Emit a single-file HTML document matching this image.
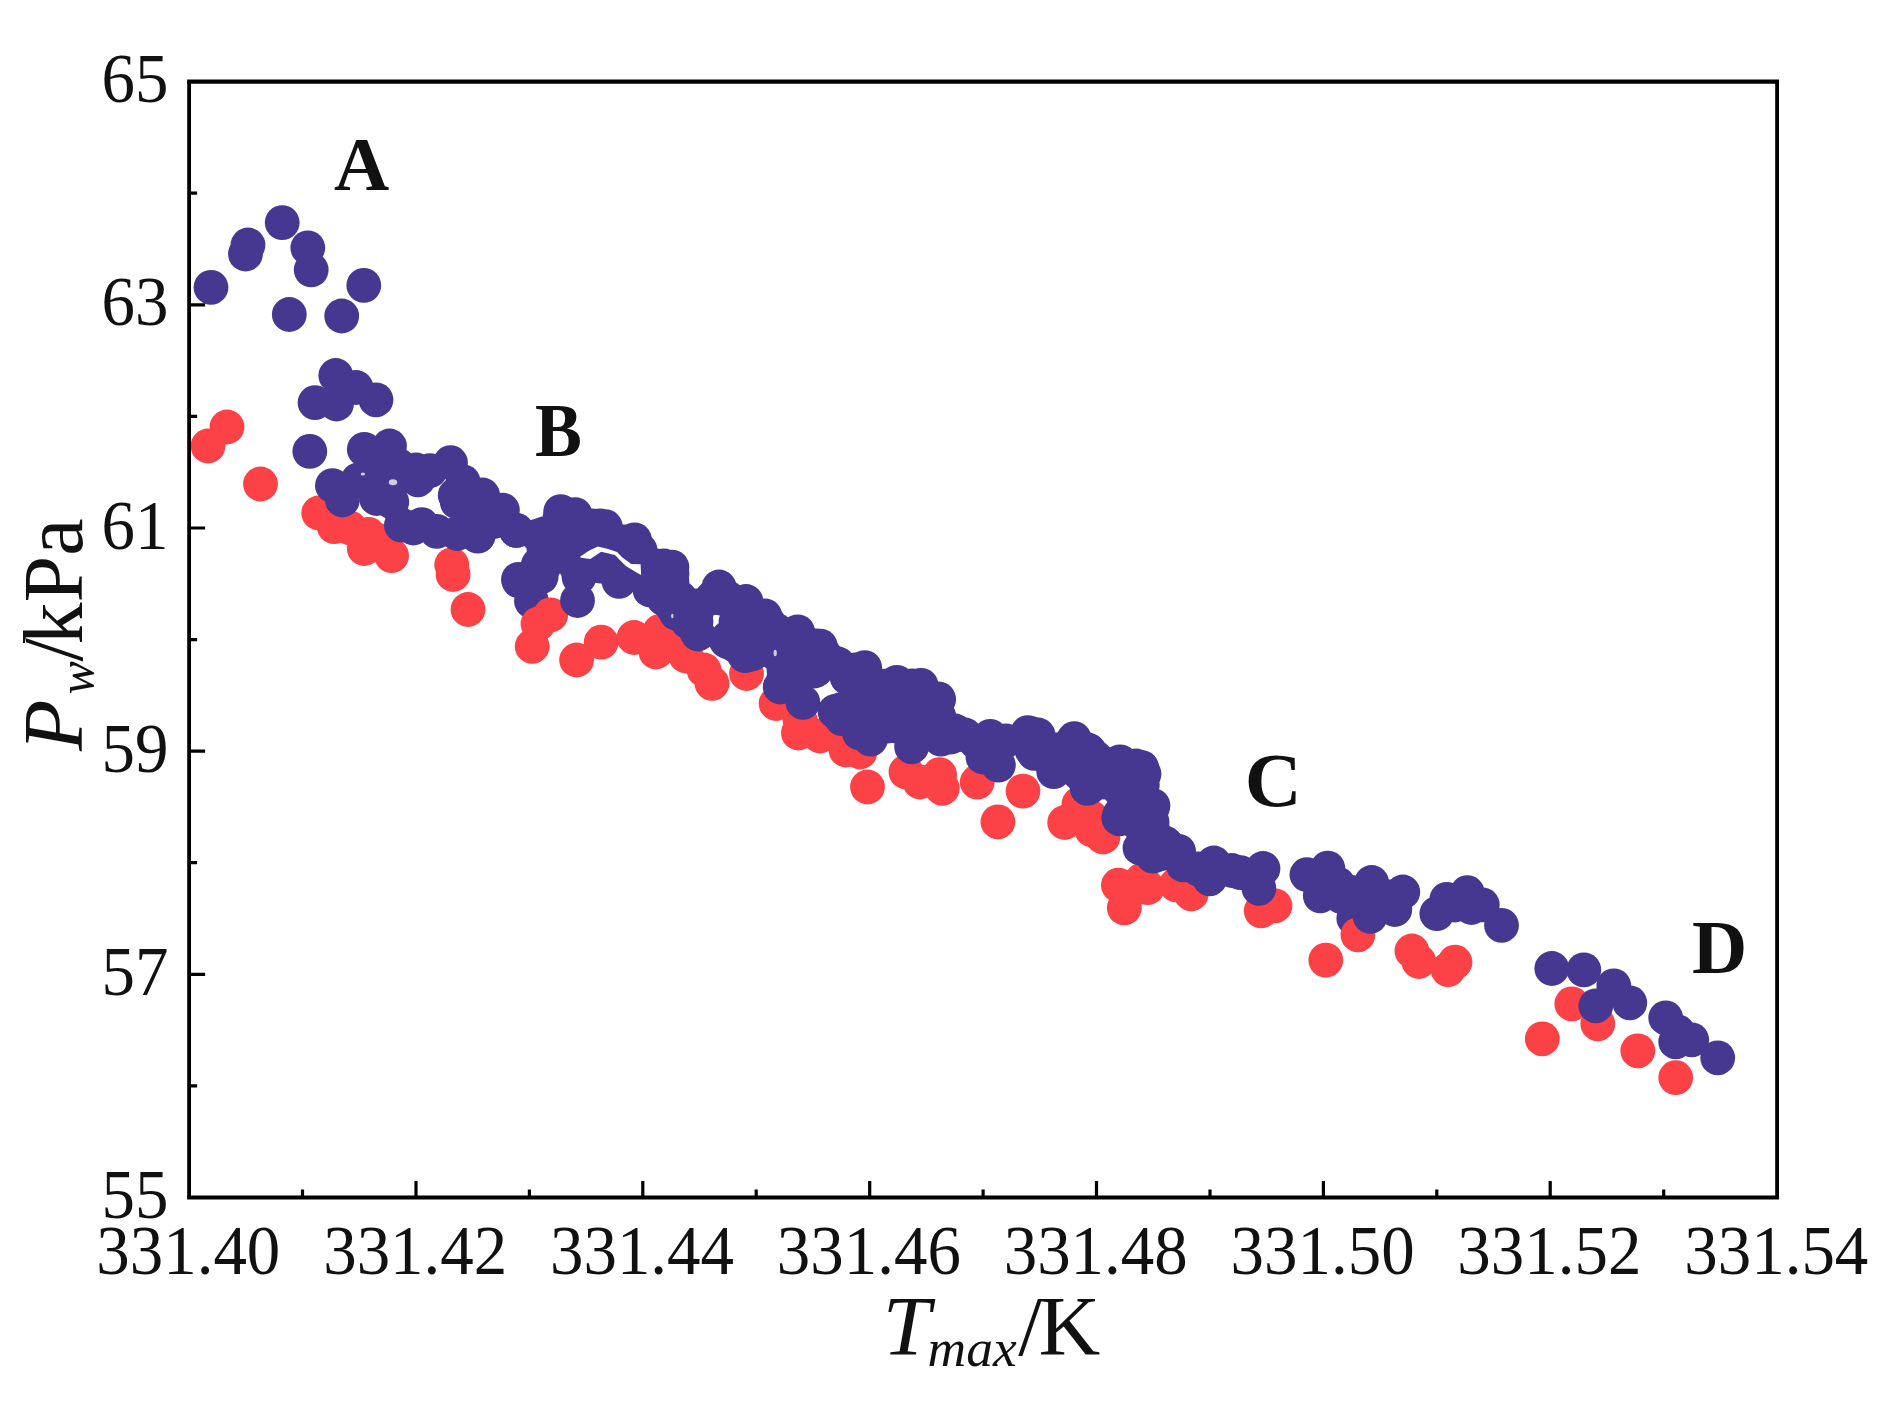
<!DOCTYPE html><html><head><meta charset="utf-8"><title>Pw vs Tmax</title><style>html,body{margin:0;padding:0;background:#fff}body{width:1902px;height:1404px;overflow:hidden}</style></head><body><svg width="1902" height="1404" viewBox="0 0 1902 1404" style="display:block">
<rect width="1902" height="1404" fill="#fff"/>
<g fill="#463890"><circle cx="531.5" cy="601.2" r="17.4"/><circle cx="1353.8" cy="918.4" r="17.4"/></g>
<g fill="#fc4246"><circle cx="227.0" cy="427.0" r="17.4"/><circle cx="208.0" cy="446.0" r="17.4"/><circle cx="260.5" cy="484.0" r="17.4"/><circle cx="318.7" cy="513.0" r="17.4"/><circle cx="334.2" cy="526.6" r="17.4"/><circle cx="350.0" cy="528.0" r="17.4"/><circle cx="368.4" cy="534.4" r="17.4"/><circle cx="364.3" cy="548.5" r="17.4"/><circle cx="391.6" cy="555.7" r="17.4"/><circle cx="380.0" cy="541.0" r="17.4"/><circle cx="451.7" cy="564.9" r="17.4"/><circle cx="453.1" cy="574.5" r="17.4"/><circle cx="468.0" cy="609.5" r="17.4"/><circle cx="550.7" cy="614.9" r="17.4"/><circle cx="538.0" cy="624.0" r="17.4"/><circle cx="532.2" cy="646.3" r="17.4"/><circle cx="576.6" cy="660.0" r="17.4"/><circle cx="601.2" cy="642.2" r="17.4"/><circle cx="634.0" cy="637.5" r="17.4"/><circle cx="660.0" cy="631.3" r="17.4"/><circle cx="656.0" cy="652.0" r="17.4"/><circle cx="672.0" cy="640.0" r="17.4"/><circle cx="686.0" cy="656.0" r="17.4"/><circle cx="704.0" cy="670.0" r="17.4"/><circle cx="712.0" cy="683.4" r="17.4"/><circle cx="746.5" cy="673.5" r="17.4"/><circle cx="776.1" cy="703.5" r="17.4"/><circle cx="798.4" cy="733.0" r="17.4"/><circle cx="820.0" cy="736.0" r="17.4"/><circle cx="800.0" cy="720.0" r="17.4"/><circle cx="846.0" cy="750.0" r="17.4"/><circle cx="860.0" cy="752.0" r="17.4"/><circle cx="867.5" cy="787.0" r="17.4"/><circle cx="906.0" cy="772.0" r="17.4"/><circle cx="920.0" cy="782.0" r="17.4"/><circle cx="939.6" cy="774.7" r="17.4"/><circle cx="942.3" cy="788.3" r="17.4"/><circle cx="977.2" cy="782.2" r="17.4"/><circle cx="1023.0" cy="791.1" r="17.4"/><circle cx="997.9" cy="821.8" r="17.4"/><circle cx="1064.7" cy="822.5" r="17.4"/><circle cx="1079.0" cy="804.0" r="17.4"/><circle cx="1080.5" cy="816.6" r="17.4"/><circle cx="1091.3" cy="817.7" r="17.4"/><circle cx="1092.0" cy="830.0" r="17.4"/><circle cx="1103.0" cy="837.0" r="17.4"/><circle cx="1118.4" cy="885.2" r="17.4"/><circle cx="1124.3" cy="907.9" r="17.4"/><circle cx="1147.5" cy="887.6" r="17.4"/><circle cx="1176.2" cy="884.9" r="17.4"/><circle cx="1191.2" cy="893.8" r="17.4"/><circle cx="1142.0" cy="880.0" r="17.4"/><circle cx="1275.0" cy="905.8" r="17.4"/><circle cx="1261.2" cy="910.9" r="17.4"/><circle cx="1325.8" cy="960.1" r="17.4"/><circle cx="1357.9" cy="934.8" r="17.4"/><circle cx="1411.9" cy="951.0" r="17.4"/><circle cx="1418.8" cy="961.5" r="17.4"/><circle cx="1455.0" cy="962.2" r="17.4"/><circle cx="1448.1" cy="969.7" r="17.4"/><circle cx="1571.8" cy="1003.8" r="17.4"/><circle cx="1597.8" cy="1023.8" r="17.4"/><circle cx="1542.3" cy="1038.8" r="17.4"/><circle cx="1637.8" cy="1050.8" r="17.4"/><circle cx="1675.7" cy="1077.7" r="17.4"/></g>
<g fill="#463890"><circle cx="560.0" cy="518.0" r="17.4"/><circle cx="568.0" cy="518.0" r="17.4"/><circle cx="576.0" cy="518.0" r="17.4"/><circle cx="560.0" cy="526.0" r="17.4"/><circle cx="568.0" cy="526.0" r="17.4"/><circle cx="576.0" cy="526.0" r="17.4"/><circle cx="584.0" cy="526.0" r="17.4"/><circle cx="592.0" cy="526.0" r="17.4"/><circle cx="600.0" cy="526.0" r="17.4"/><circle cx="544.0" cy="534.0" r="17.4"/><circle cx="552.0" cy="534.0" r="17.4"/><circle cx="560.0" cy="534.0" r="17.4"/><circle cx="568.0" cy="534.0" r="17.4"/><circle cx="576.0" cy="534.0" r="17.4"/><circle cx="584.0" cy="534.0" r="17.4"/><circle cx="592.0" cy="534.0" r="17.4"/><circle cx="600.0" cy="534.0" r="17.4"/><circle cx="608.0" cy="534.0" r="17.4"/><circle cx="544.0" cy="542.0" r="17.4"/><circle cx="552.0" cy="542.0" r="17.4"/><circle cx="560.0" cy="542.0" r="17.4"/><circle cx="568.0" cy="542.0" r="17.4"/><circle cx="576.0" cy="542.0" r="17.4"/><circle cx="584.0" cy="542.0" r="17.4"/><circle cx="592.0" cy="542.0" r="17.4"/><circle cx="600.0" cy="542.0" r="17.4"/><circle cx="608.0" cy="542.0" r="17.4"/><circle cx="616.0" cy="542.0" r="17.4"/><circle cx="624.0" cy="542.0" r="17.4"/><circle cx="632.0" cy="542.0" r="17.4"/><circle cx="544.0" cy="550.0" r="17.4"/><circle cx="552.0" cy="550.0" r="17.4"/><circle cx="560.0" cy="550.0" r="17.4"/><circle cx="568.0" cy="550.0" r="17.4"/><circle cx="576.0" cy="550.0" r="17.4"/><circle cx="584.0" cy="550.0" r="17.4"/><circle cx="592.0" cy="550.0" r="17.4"/><circle cx="600.0" cy="550.0" r="17.4"/><circle cx="608.0" cy="550.0" r="17.4"/><circle cx="616.0" cy="550.0" r="17.4"/><circle cx="624.0" cy="550.0" r="17.4"/><circle cx="632.0" cy="550.0" r="17.4"/><circle cx="640.0" cy="550.0" r="17.4"/><circle cx="544.0" cy="558.0" r="17.4"/><circle cx="552.0" cy="558.0" r="17.4"/><circle cx="568.0" cy="558.0" r="17.4"/><circle cx="576.0" cy="558.0" r="17.4"/><circle cx="584.0" cy="558.0" r="17.4"/><circle cx="592.0" cy="558.0" r="17.4"/><circle cx="600.0" cy="558.0" r="17.4"/><circle cx="608.0" cy="558.0" r="17.4"/><circle cx="616.0" cy="558.0" r="17.4"/><circle cx="624.0" cy="558.0" r="17.4"/><circle cx="632.0" cy="558.0" r="17.4"/><circle cx="640.0" cy="558.0" r="17.4"/><circle cx="544.0" cy="566.0" r="17.4"/><circle cx="576.0" cy="566.0" r="17.4"/><circle cx="584.0" cy="566.0" r="17.4"/><circle cx="592.0" cy="566.0" r="17.4"/><circle cx="600.0" cy="566.0" r="17.4"/><circle cx="608.0" cy="566.0" r="17.4"/><circle cx="616.0" cy="566.0" r="17.4"/><circle cx="624.0" cy="566.0" r="17.4"/><circle cx="632.0" cy="566.0" r="17.4"/><circle cx="640.0" cy="566.0" r="17.4"/><circle cx="648.0" cy="566.0" r="17.4"/><circle cx="656.0" cy="566.0" r="17.4"/><circle cx="664.0" cy="566.0" r="17.4"/><circle cx="616.0" cy="574.0" r="17.4"/><circle cx="624.0" cy="574.0" r="17.4"/><circle cx="632.0" cy="574.0" r="17.4"/><circle cx="640.0" cy="574.0" r="17.4"/><circle cx="648.0" cy="574.0" r="17.4"/><circle cx="656.0" cy="574.0" r="17.4"/><circle cx="664.0" cy="574.0" r="17.4"/><circle cx="672.0" cy="574.0" r="17.4"/><circle cx="648.0" cy="582.0" r="17.4"/><circle cx="656.0" cy="582.0" r="17.4"/><circle cx="664.0" cy="582.0" r="17.4"/><circle cx="672.0" cy="582.0" r="17.4"/><circle cx="656.0" cy="590.0" r="17.4"/><circle cx="664.0" cy="590.0" r="17.4"/><circle cx="672.0" cy="590.0" r="17.4"/><circle cx="720.0" cy="590.0" r="17.4"/><circle cx="664.0" cy="598.0" r="17.4"/><circle cx="672.0" cy="598.0" r="17.4"/><circle cx="680.0" cy="598.0" r="17.4"/><circle cx="712.0" cy="598.0" r="17.4"/><circle cx="720.0" cy="598.0" r="17.4"/><circle cx="728.0" cy="598.0" r="17.4"/><circle cx="672.0" cy="606.0" r="17.4"/><circle cx="680.0" cy="606.0" r="17.4"/><circle cx="688.0" cy="606.0" r="17.4"/><circle cx="696.0" cy="606.0" r="17.4"/><circle cx="736.0" cy="606.0" r="17.4"/><circle cx="744.0" cy="606.0" r="17.4"/><circle cx="680.0" cy="614.0" r="17.4"/><circle cx="688.0" cy="614.0" r="17.4"/><circle cx="696.0" cy="614.0" r="17.4"/><circle cx="744.0" cy="614.0" r="17.4"/><circle cx="752.0" cy="614.0" r="17.4"/><circle cx="688.0" cy="622.0" r="17.4"/><circle cx="696.0" cy="622.0" r="17.4"/><circle cx="736.0" cy="622.0" r="17.4"/><circle cx="744.0" cy="622.0" r="17.4"/><circle cx="752.0" cy="622.0" r="17.4"/><circle cx="760.0" cy="622.0" r="17.4"/><circle cx="768.0" cy="622.0" r="17.4"/><circle cx="696.0" cy="630.0" r="17.4"/><circle cx="736.0" cy="630.0" r="17.4"/><circle cx="744.0" cy="630.0" r="17.4"/><circle cx="752.0" cy="630.0" r="17.4"/><circle cx="760.0" cy="630.0" r="17.4"/><circle cx="768.0" cy="630.0" r="17.4"/><circle cx="776.0" cy="630.0" r="17.4"/><circle cx="728.0" cy="638.0" r="17.4"/><circle cx="736.0" cy="638.0" r="17.4"/><circle cx="744.0" cy="638.0" r="17.4"/><circle cx="752.0" cy="638.0" r="17.4"/><circle cx="760.0" cy="638.0" r="17.4"/><circle cx="768.0" cy="638.0" r="17.4"/><circle cx="776.0" cy="638.0" r="17.4"/><circle cx="784.0" cy="638.0" r="17.4"/><circle cx="792.0" cy="638.0" r="17.4"/><circle cx="800.0" cy="638.0" r="17.4"/><circle cx="736.0" cy="646.0" r="17.4"/><circle cx="744.0" cy="646.0" r="17.4"/><circle cx="752.0" cy="646.0" r="17.4"/><circle cx="760.0" cy="646.0" r="17.4"/><circle cx="768.0" cy="646.0" r="17.4"/><circle cx="776.0" cy="646.0" r="17.4"/><circle cx="784.0" cy="646.0" r="17.4"/><circle cx="792.0" cy="646.0" r="17.4"/><circle cx="800.0" cy="646.0" r="17.4"/><circle cx="808.0" cy="646.0" r="17.4"/><circle cx="816.0" cy="646.0" r="17.4"/><circle cx="744.0" cy="654.0" r="17.4"/><circle cx="752.0" cy="654.0" r="17.4"/><circle cx="776.0" cy="654.0" r="17.4"/><circle cx="784.0" cy="654.0" r="17.4"/><circle cx="792.0" cy="654.0" r="17.4"/><circle cx="800.0" cy="654.0" r="17.4"/><circle cx="808.0" cy="654.0" r="17.4"/><circle cx="816.0" cy="654.0" r="17.4"/><circle cx="824.0" cy="654.0" r="17.4"/><circle cx="784.0" cy="662.0" r="17.4"/><circle cx="792.0" cy="662.0" r="17.4"/><circle cx="800.0" cy="662.0" r="17.4"/><circle cx="808.0" cy="662.0" r="17.4"/><circle cx="816.0" cy="662.0" r="17.4"/><circle cx="824.0" cy="662.0" r="17.4"/><circle cx="832.0" cy="662.0" r="17.4"/><circle cx="784.0" cy="670.0" r="17.4"/><circle cx="792.0" cy="670.0" r="17.4"/><circle cx="800.0" cy="670.0" r="17.4"/><circle cx="816.0" cy="670.0" r="17.4"/><circle cx="848.0" cy="670.0" r="17.4"/><circle cx="856.0" cy="670.0" r="17.4"/><circle cx="864.0" cy="670.0" r="17.4"/><circle cx="784.0" cy="678.0" r="17.4"/><circle cx="848.0" cy="678.0" r="17.4"/><circle cx="856.0" cy="678.0" r="17.4"/><circle cx="864.0" cy="678.0" r="17.4"/><circle cx="784.0" cy="686.0" r="17.4"/><circle cx="856.0" cy="686.0" r="17.4"/><circle cx="864.0" cy="686.0" r="17.4"/><circle cx="872.0" cy="686.0" r="17.4"/><circle cx="880.0" cy="686.0" r="17.4"/><circle cx="888.0" cy="686.0" r="17.4"/><circle cx="896.0" cy="686.0" r="17.4"/><circle cx="904.0" cy="686.0" r="17.4"/><circle cx="912.0" cy="686.0" r="17.4"/><circle cx="920.0" cy="686.0" r="17.4"/><circle cx="856.0" cy="694.0" r="17.4"/><circle cx="864.0" cy="694.0" r="17.4"/><circle cx="872.0" cy="694.0" r="17.4"/><circle cx="880.0" cy="694.0" r="17.4"/><circle cx="888.0" cy="694.0" r="17.4"/><circle cx="896.0" cy="694.0" r="17.4"/><circle cx="904.0" cy="694.0" r="17.4"/><circle cx="912.0" cy="694.0" r="17.4"/><circle cx="920.0" cy="694.0" r="17.4"/><circle cx="856.0" cy="702.0" r="17.4"/><circle cx="864.0" cy="702.0" r="17.4"/><circle cx="872.0" cy="702.0" r="17.4"/><circle cx="880.0" cy="702.0" r="17.4"/><circle cx="888.0" cy="702.0" r="17.4"/><circle cx="896.0" cy="702.0" r="17.4"/><circle cx="904.0" cy="702.0" r="17.4"/><circle cx="912.0" cy="702.0" r="17.4"/><circle cx="920.0" cy="702.0" r="17.4"/><circle cx="928.0" cy="702.0" r="17.4"/><circle cx="936.0" cy="702.0" r="17.4"/><circle cx="840.0" cy="710.0" r="17.4"/><circle cx="848.0" cy="710.0" r="17.4"/><circle cx="856.0" cy="710.0" r="17.4"/><circle cx="864.0" cy="710.0" r="17.4"/><circle cx="872.0" cy="710.0" r="17.4"/><circle cx="880.0" cy="710.0" r="17.4"/><circle cx="888.0" cy="710.0" r="17.4"/><circle cx="896.0" cy="710.0" r="17.4"/><circle cx="904.0" cy="710.0" r="17.4"/><circle cx="912.0" cy="710.0" r="17.4"/><circle cx="920.0" cy="710.0" r="17.4"/><circle cx="928.0" cy="710.0" r="17.4"/><circle cx="936.0" cy="710.0" r="17.4"/><circle cx="848.0" cy="718.0" r="17.4"/><circle cx="856.0" cy="718.0" r="17.4"/><circle cx="864.0" cy="718.0" r="17.4"/><circle cx="872.0" cy="718.0" r="17.4"/><circle cx="880.0" cy="718.0" r="17.4"/><circle cx="888.0" cy="718.0" r="17.4"/><circle cx="896.0" cy="718.0" r="17.4"/><circle cx="904.0" cy="718.0" r="17.4"/><circle cx="912.0" cy="718.0" r="17.4"/><circle cx="920.0" cy="718.0" r="17.4"/><circle cx="928.0" cy="718.0" r="17.4"/><circle cx="936.0" cy="718.0" r="17.4"/><circle cx="864.0" cy="726.0" r="17.4"/><circle cx="872.0" cy="726.0" r="17.4"/><circle cx="880.0" cy="726.0" r="17.4"/><circle cx="888.0" cy="726.0" r="17.4"/><circle cx="896.0" cy="726.0" r="17.4"/><circle cx="904.0" cy="726.0" r="17.4"/><circle cx="912.0" cy="726.0" r="17.4"/><circle cx="920.0" cy="726.0" r="17.4"/><circle cx="928.0" cy="726.0" r="17.4"/><circle cx="936.0" cy="726.0" r="17.4"/><circle cx="944.0" cy="726.0" r="17.4"/><circle cx="920.0" cy="734.0" r="17.4"/><circle cx="928.0" cy="734.0" r="17.4"/><circle cx="936.0" cy="734.0" r="17.4"/><circle cx="944.0" cy="734.0" r="17.4"/><circle cx="952.0" cy="734.0" r="17.4"/><circle cx="960.0" cy="734.0" r="17.4"/><circle cx="1032.0" cy="734.0" r="17.4"/><circle cx="976.0" cy="742.0" r="17.4"/><circle cx="984.0" cy="742.0" r="17.4"/><circle cx="992.0" cy="742.0" r="17.4"/><circle cx="1000.0" cy="742.0" r="17.4"/><circle cx="1032.0" cy="742.0" r="17.4"/><circle cx="1040.0" cy="742.0" r="17.4"/><circle cx="1072.0" cy="742.0" r="17.4"/><circle cx="984.0" cy="750.0" r="17.4"/><circle cx="992.0" cy="750.0" r="17.4"/><circle cx="1032.0" cy="750.0" r="17.4"/><circle cx="1040.0" cy="750.0" r="17.4"/><circle cx="1048.0" cy="750.0" r="17.4"/><circle cx="1056.0" cy="750.0" r="17.4"/><circle cx="1064.0" cy="750.0" r="17.4"/><circle cx="1072.0" cy="750.0" r="17.4"/><circle cx="1080.0" cy="750.0" r="17.4"/><circle cx="1088.0" cy="750.0" r="17.4"/><circle cx="992.0" cy="758.0" r="17.4"/><circle cx="1048.0" cy="758.0" r="17.4"/><circle cx="1056.0" cy="758.0" r="17.4"/><circle cx="1064.0" cy="758.0" r="17.4"/><circle cx="1072.0" cy="758.0" r="17.4"/><circle cx="1080.0" cy="758.0" r="17.4"/><circle cx="1088.0" cy="758.0" r="17.4"/><circle cx="1096.0" cy="758.0" r="17.4"/><circle cx="1056.0" cy="766.0" r="17.4"/><circle cx="1064.0" cy="766.0" r="17.4"/><circle cx="1072.0" cy="766.0" r="17.4"/><circle cx="1080.0" cy="766.0" r="17.4"/><circle cx="1088.0" cy="766.0" r="17.4"/><circle cx="1096.0" cy="766.0" r="17.4"/><circle cx="1104.0" cy="766.0" r="17.4"/><circle cx="1112.0" cy="766.0" r="17.4"/><circle cx="1120.0" cy="766.0" r="17.4"/><circle cx="1128.0" cy="766.0" r="17.4"/><circle cx="1136.0" cy="766.0" r="17.4"/><circle cx="1080.0" cy="774.0" r="17.4"/><circle cx="1088.0" cy="774.0" r="17.4"/><circle cx="1096.0" cy="774.0" r="17.4"/><circle cx="1104.0" cy="774.0" r="17.4"/><circle cx="1112.0" cy="774.0" r="17.4"/><circle cx="1120.0" cy="774.0" r="17.4"/><circle cx="1128.0" cy="774.0" r="17.4"/><circle cx="1136.0" cy="774.0" r="17.4"/><circle cx="1144.0" cy="774.0" r="17.4"/><circle cx="1088.0" cy="782.0" r="17.4"/><circle cx="1096.0" cy="782.0" r="17.4"/><circle cx="1104.0" cy="782.0" r="17.4"/><circle cx="1112.0" cy="782.0" r="17.4"/><circle cx="1120.0" cy="782.0" r="17.4"/><circle cx="1128.0" cy="782.0" r="17.4"/><circle cx="1136.0" cy="782.0" r="17.4"/><circle cx="1120.0" cy="790.0" r="17.4"/><circle cx="1128.0" cy="790.0" r="17.4"/><circle cx="1136.0" cy="790.0" r="17.4"/><circle cx="1128.0" cy="798.0" r="17.4"/><circle cx="1136.0" cy="798.0" r="17.4"/><circle cx="1144.0" cy="798.0" r="17.4"/><circle cx="1128.0" cy="806.0" r="17.4"/><circle cx="1136.0" cy="806.0" r="17.4"/><circle cx="1144.0" cy="806.0" r="17.4"/><circle cx="1152.0" cy="806.0" r="17.4"/><circle cx="1120.0" cy="814.0" r="17.4"/><circle cx="1128.0" cy="814.0" r="17.4"/><circle cx="1136.0" cy="814.0" r="17.4"/><circle cx="1144.0" cy="814.0" r="17.4"/><circle cx="1136.0" cy="822.0" r="17.4"/><circle cx="1144.0" cy="822.0" r="17.4"/><circle cx="1152.0" cy="822.0" r="17.4"/><circle cx="1144.0" cy="830.0" r="17.4"/><circle cx="1152.0" cy="830.0" r="17.4"/><circle cx="1144.0" cy="838.0" r="17.4"/><circle cx="1152.0" cy="838.0" r="17.4"/><circle cx="1144.0" cy="846.0" r="17.4"/><circle cx="1152.0" cy="846.0" r="17.4"/><circle cx="1160.0" cy="846.0" r="17.4"/><circle cx="1168.0" cy="846.0" r="17.4"/><circle cx="1152.0" cy="854.0" r="17.4"/><circle cx="1160.0" cy="854.0" r="17.4"/><circle cx="211.0" cy="287.3" r="17.4"/><circle cx="245.5" cy="254.0" r="17.4"/><circle cx="248.0" cy="245.0" r="17.4"/><circle cx="282.2" cy="222.6" r="17.4"/><circle cx="307.8" cy="247.8" r="17.4"/><circle cx="311.2" cy="269.9" r="17.4"/><circle cx="363.8" cy="285.4" r="17.4"/><circle cx="289.3" cy="314.5" r="17.4"/><circle cx="341.7" cy="316.0" r="17.4"/><circle cx="335.8" cy="375.5" r="17.4"/><circle cx="315.0" cy="402.7" r="17.4"/><circle cx="336.5" cy="404.0" r="17.4"/><circle cx="356.0" cy="387.5" r="17.4"/><circle cx="376.0" cy="399.8" r="17.4"/><circle cx="309.8" cy="451.4" r="17.4"/><circle cx="364.3" cy="449.4" r="17.4"/><circle cx="389.5" cy="446.0" r="17.4"/><circle cx="416.2" cy="470.0" r="17.4"/><circle cx="430.0" cy="470.6" r="17.4"/><circle cx="450.5" cy="462.7" r="17.4"/><circle cx="463.2" cy="481.9" r="17.4"/><circle cx="482.5" cy="495.0" r="17.4"/><circle cx="502.4" cy="510.1" r="17.4"/><circle cx="332.4" cy="485.6" r="17.4"/><circle cx="342.4" cy="500.0" r="17.4"/><circle cx="380.0" cy="466.0" r="17.4"/><circle cx="376.6" cy="498.5" r="17.4"/><circle cx="391.8" cy="502.0" r="17.4"/><circle cx="401.4" cy="525.2" r="17.4"/><circle cx="413.5" cy="528.0" r="17.4"/><circle cx="436.7" cy="531.4" r="17.4"/><circle cx="457.2" cy="533.5" r="17.4"/><circle cx="477.7" cy="536.2" r="17.4"/><circle cx="516.3" cy="530.4" r="17.4"/><circle cx="519.0" cy="580.9" r="17.4"/><circle cx="538.3" cy="564.9" r="17.4"/><circle cx="457.2" cy="502.0" r="17.4"/><circle cx="417.8" cy="479.8" r="17.4"/><circle cx="421.8" cy="524.7" r="17.4"/><circle cx="398.6" cy="465.5" r="17.4"/><circle cx="358.0" cy="480.0" r="17.4"/><circle cx="455.2" cy="495.2" r="17.4"/><circle cx="395.0" cy="480.0" r="17.4"/><circle cx="475.0" cy="515.0" r="17.4"/><circle cx="494.0" cy="521.5" r="17.4"/><circle cx="560.7" cy="511.6" r="17.4"/><circle cx="575.1" cy="514.6" r="17.4"/><circle cx="605.3" cy="526.7" r="17.4"/><circle cx="634.5" cy="539.9" r="17.4"/><circle cx="671.9" cy="567.1" r="17.4"/><circle cx="719.0" cy="587.0" r="17.4"/><circle cx="478.2" cy="535.6" r="17.4"/><circle cx="516.3" cy="530.3" r="17.4"/><circle cx="518.5" cy="579.4" r="17.4"/><circle cx="541.1" cy="576.9" r="17.4"/><circle cx="577.5" cy="600.5" r="17.4"/><circle cx="619.0" cy="581.4" r="17.4"/><circle cx="650.0" cy="590.0" r="17.4"/><circle cx="664.0" cy="599.0" r="17.4"/><circle cx="676.2" cy="613.1" r="17.4"/><circle cx="698.0" cy="634.0" r="17.4"/><circle cx="728.0" cy="642.0" r="17.4"/><circle cx="538.5" cy="535.8" r="17.4"/><circle cx="579.0" cy="577.0" r="17.4"/><circle cx="746.0" cy="601.5" r="17.4"/><circle cx="764.8" cy="615.9" r="17.4"/><circle cx="797.7" cy="631.8" r="17.4"/><circle cx="820.3" cy="646.1" r="17.4"/><circle cx="838.0" cy="664.0" r="17.4"/><circle cx="864.7" cy="667.6" r="17.4"/><circle cx="896.9" cy="682.4" r="17.4"/><circle cx="921.1" cy="685.3" r="17.4"/><circle cx="938.6" cy="699.4" r="17.4"/><circle cx="726.2" cy="640.6" r="17.4"/><circle cx="745.1" cy="655.7" r="17.4"/><circle cx="780.2" cy="687.0" r="17.4"/><circle cx="841.8" cy="718.6" r="17.4"/><circle cx="864.0" cy="732.2" r="17.4"/><circle cx="870.5" cy="739.2" r="17.4"/><circle cx="911.6" cy="746.8" r="17.4"/><circle cx="859.4" cy="732.9" r="17.4"/><circle cx="938.2" cy="698.8" r="17.4"/><circle cx="938.9" cy="716.6" r="17.4"/><circle cx="955.0" cy="731.0" r="17.4"/><circle cx="965.0" cy="735.0" r="17.4"/><circle cx="990.2" cy="736.4" r="17.4"/><circle cx="1005.9" cy="740.8" r="17.4"/><circle cx="1027.7" cy="732.7" r="17.4"/><circle cx="1038.0" cy="735.0" r="17.4"/><circle cx="1074.2" cy="738.7" r="17.4"/><circle cx="1089.4" cy="751.3" r="17.4"/><circle cx="1119.9" cy="761.9" r="17.4"/><circle cx="1141.7" cy="767.8" r="17.4"/><circle cx="1152.1" cy="808.1" r="17.4"/><circle cx="940.9" cy="739.1" r="17.4"/><circle cx="951.0" cy="737.0" r="17.4"/><circle cx="982.9" cy="757.0" r="17.4"/><circle cx="998.4" cy="765.1" r="17.4"/><circle cx="1034.3" cy="753.4" r="17.4"/><circle cx="1053.7" cy="771.6" r="17.4"/><circle cx="1087.2" cy="788.3" r="17.4"/><circle cx="1119.4" cy="818.8" r="17.4"/><circle cx="1121.0" cy="762.5" r="17.4"/><circle cx="1141.4" cy="767.6" r="17.4"/><circle cx="1142.3" cy="784.7" r="17.4"/><circle cx="1153.0" cy="805.6" r="17.4"/><circle cx="1152.0" cy="826.0" r="17.4"/><circle cx="1165.0" cy="843.0" r="17.4"/><circle cx="1178.6" cy="851.3" r="17.4"/><circle cx="1213.8" cy="863.0" r="17.4"/><circle cx="1232.0" cy="870.5" r="17.4"/><circle cx="1263.0" cy="868.5" r="17.4"/><circle cx="1089.4" cy="787.2" r="17.4"/><circle cx="1118.8" cy="817.9" r="17.4"/><circle cx="1140.0" cy="848.0" r="17.4"/><circle cx="1153.0" cy="856.2" r="17.4"/><circle cx="1183.2" cy="864.9" r="17.4"/><circle cx="1209.7" cy="878.8" r="17.4"/><circle cx="1258.9" cy="888.3" r="17.4"/><circle cx="1197.9" cy="868.8" r="17.4"/><circle cx="1240.4" cy="872.6" r="17.4"/><circle cx="1306.9" cy="874.7" r="17.4"/><circle cx="1327.8" cy="868.1" r="17.4"/><circle cx="1320.3" cy="895.9" r="17.4"/><circle cx="1371.6" cy="882.5" r="17.4"/><circle cx="1402.8" cy="892.0" r="17.4"/><circle cx="1394.8" cy="909.5" r="17.4"/><circle cx="1351.1" cy="892.5" r="17.4"/><circle cx="1370.2" cy="916.4" r="17.4"/><circle cx="1341.5" cy="896.6" r="17.4"/><circle cx="1375.7" cy="902.0" r="17.4"/><circle cx="1386.6" cy="896.6" r="17.4"/><circle cx="1338.0" cy="884.0" r="17.4"/><circle cx="1436.8" cy="913.6" r="17.4"/><circle cx="1446.8" cy="899.3" r="17.4"/><circle cx="1467.3" cy="892.7" r="17.4"/><circle cx="1482.3" cy="904.8" r="17.4"/><circle cx="1501.5" cy="925.3" r="17.4"/><circle cx="1471.4" cy="907.5" r="17.4"/><circle cx="1455.0" cy="905.0" r="17.4"/><circle cx="1551.8" cy="968.5" r="17.4"/><circle cx="1583.8" cy="969.9" r="17.4"/><circle cx="1613.8" cy="985.8" r="17.4"/><circle cx="1595.8" cy="1005.8" r="17.4"/><circle cx="1629.8" cy="1002.8" r="17.4"/><circle cx="1665.7" cy="1017.8" r="17.4"/><circle cx="1677.7" cy="1031.8" r="17.4"/><circle cx="1675.7" cy="1041.8" r="17.4"/><circle cx="1691.7" cy="1039.8" r="17.4"/><circle cx="1717.7" cy="1057.8" r="17.4"/><circle cx="814.4" cy="671.0" r="17.4"/><circle cx="847.2" cy="677.4" r="17.4"/><circle cx="835.0" cy="711.5" r="17.4"/><circle cx="802.9" cy="702.4" r="17.4"/></g>
<polygon points="580.0,556.7 588.9,550.7 597.8,546.6 608.1,549.0 617.0,552.0 622.4,557.5 631.3,564.0 640.6,564.3 641.1,575.0 636.1,572.3 625.8,566.0 614.9,555.0 601.2,551.7 590.3,558.9 581.0,557.8" fill="#fff"/>
<ellipse cx="362.9" cy="474.0" rx="2.2" ry="1.6" fill="#fff" fill-opacity=".75"/>
<ellipse cx="393.0" cy="482.2" rx="4.2" ry="3.0" fill="#fff" fill-opacity=".75"/>
<ellipse cx="775.2" cy="653.0" rx="1.6" ry="3.2" fill="#fff" fill-opacity=".75"/>
<ellipse cx="672.3" cy="616.0" rx="1.2" ry="2.2" fill="#fff" fill-opacity=".75"/>
<path d="M187.15 81.6H1779.05M187.15 1197.5H1779.05" stroke="#000" stroke-width="4.1" fill="none"/>
<path d="M189.1 81.6V1197.5M1777.1 81.6V1197.5" stroke="#000" stroke-width="3.8" fill="none"/>
<path d="M302.5 1197.5v-8 M416.0 1197.5v-16.5 M529.4 1197.5v-8 M642.8 1197.5v-16.5 M756.2 1197.5v-8 M869.7 1197.5v-16.5 M983.1 1197.5v-8 M1096.5 1197.5v-16.5 M1210.0 1197.5v-8 M1323.4 1197.5v-16.5 M1436.8 1197.5v-8 M1550.2 1197.5v-16.5 M1663.7 1197.5v-8 M189.1 193.2h8 M189.1 304.8h16 M189.1 416.4h8 M189.1 528.0h16 M189.1 639.6h8 M189.1 751.1h16 M189.1 862.7h8 M189.1 974.3h16 M189.1 1085.9h8" stroke="#000" stroke-width="3.2" fill="none"/>
<g font-family="Liberation Serif, Times New Roman, serif" font-size="69.3" fill="#111">
<text transform="translate(188.3,1274.1) scale(0.966,1)" text-anchor="middle">331.40</text>
<text transform="translate(415.2,1274.1) scale(0.966,1)" text-anchor="middle">331.42</text>
<text transform="translate(642.0,1274.1) scale(0.966,1)" text-anchor="middle">331.44</text>
<text transform="translate(868.9,1274.1) scale(0.966,1)" text-anchor="middle">331.46</text>
<text transform="translate(1095.7,1274.1) scale(0.966,1)" text-anchor="middle">331.48</text>
<text transform="translate(1322.6,1274.1) scale(0.966,1)" text-anchor="middle">331.50</text>
<text transform="translate(1549.4,1274.1) scale(0.966,1)" text-anchor="middle">331.52</text>
<text transform="translate(1776.3,1274.1) scale(0.966,1)" text-anchor="middle">331.54</text>
<text transform="translate(168.5,102.2) scale(0.966,1)" text-anchor="end">65</text>
<text transform="translate(168.5,325.4) scale(0.966,1)" text-anchor="end">63</text>
<text transform="translate(168.5,548.6) scale(0.966,1)" text-anchor="end">61</text>
<text transform="translate(168.5,771.7) scale(0.966,1)" text-anchor="end">59</text>
<text transform="translate(168.5,994.9) scale(0.966,1)" text-anchor="end">57</text>
<text transform="translate(168.5,1218.1) scale(0.966,1)" text-anchor="end">55</text>
</g>
<g font-family="Liberation Serif, Times New Roman, serif" font-size="83" fill="#111">
<text y="1355.1" font-size="85.5"><tspan x="882.8" font-style="italic">T</tspan><tspan x="927.6" y="1366.3" font-style="italic" font-size="53.5">max</tspan><tspan x="1018.2" y="1355.1">/</tspan><tspan x="1038.6">K</tspan></text>
<text transform="translate(82,634) rotate(-90)" font-size="84"><tspan x="-117" y="0" font-style="italic">P</tspan><tspan x="-60.5" y="11" font-style="italic" font-size="50">w</tspan><tspan x="-27.5" y="0">/</tspan><tspan x="-10.5">kPa</tspan></text>
</g>
<g font-family="Liberation Serif, Times New Roman, serif" font-size="76.5" font-weight="bold" fill="#111" text-anchor="middle">
<text transform="translate(361.5,190.4) scale(1,1)">A</text>
<text transform="translate(558.4,455.6) scale(0.92,1)">B</text>
<text transform="translate(1273.3,806.3) scale(1.03,1)">C</text>
<text transform="translate(1719.6,972.7) scale(1,1)">D</text>
</g>
</svg></body></html>
